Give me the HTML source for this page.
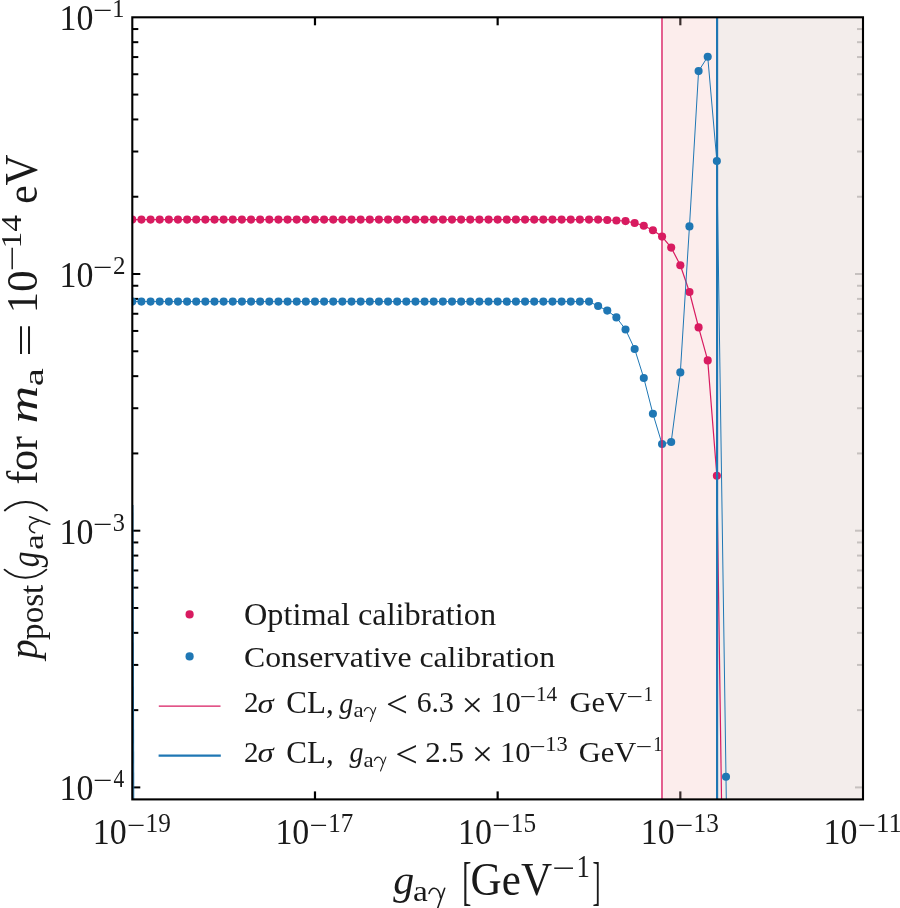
<!DOCTYPE html>
<html><head><meta charset="utf-8"><style>
html,body{margin:0;padding:0;background:#fff;}
body{width:900px;height:908px;overflow:hidden;}
svg{display:block;will-change:transform;}
text{font-family:"Liberation Serif", serif;fill:#1a1a1a;stroke:#fff;stroke-width:0px;vector-effect:non-scaling-stroke;}
</style></head><body>
<svg width="900" height="908" viewBox="0 0 900 908">
<defs><clipPath id="ax"><rect x="132.3" y="17.3" width="730.7" height="782.1"/></clipPath></defs>

<rect x="663.2" y="17.3" width="55.799999999999955" height="782.1" fill="#fcedec"/>
<rect x="719.0" y="17.3" width="144.0" height="782.1" fill="#f3edeb"/>
<line x1="132.3" y1="787.40" x2="140.3" y2="787.40" stroke="#000" stroke-width="2"/>
<line x1="863.0" y1="787.40" x2="855.0" y2="787.40" stroke="#c6c1bf" stroke-width="2"/>
<line x1="132.3" y1="710.13" x2="138.3" y2="710.13" stroke="#000" stroke-width="2"/>
<line x1="863.0" y1="710.13" x2="857.0" y2="710.13" stroke="#c6c1bf" stroke-width="2"/>
<line x1="132.3" y1="664.92" x2="138.3" y2="664.92" stroke="#000" stroke-width="2"/>
<line x1="863.0" y1="664.92" x2="857.0" y2="664.92" stroke="#c6c1bf" stroke-width="2"/>
<line x1="132.3" y1="632.85" x2="138.3" y2="632.85" stroke="#000" stroke-width="2"/>
<line x1="863.0" y1="632.85" x2="857.0" y2="632.85" stroke="#c6c1bf" stroke-width="2"/>
<line x1="132.3" y1="607.97" x2="138.3" y2="607.97" stroke="#000" stroke-width="2"/>
<line x1="863.0" y1="607.97" x2="857.0" y2="607.97" stroke="#c6c1bf" stroke-width="2"/>
<line x1="132.3" y1="587.65" x2="138.3" y2="587.65" stroke="#000" stroke-width="2"/>
<line x1="863.0" y1="587.65" x2="857.0" y2="587.65" stroke="#c6c1bf" stroke-width="2"/>
<line x1="132.3" y1="570.46" x2="138.3" y2="570.46" stroke="#000" stroke-width="2"/>
<line x1="863.0" y1="570.46" x2="857.0" y2="570.46" stroke="#c6c1bf" stroke-width="2"/>
<line x1="132.3" y1="555.58" x2="138.3" y2="555.58" stroke="#000" stroke-width="2"/>
<line x1="863.0" y1="555.58" x2="857.0" y2="555.58" stroke="#c6c1bf" stroke-width="2"/>
<line x1="132.3" y1="542.45" x2="138.3" y2="542.45" stroke="#000" stroke-width="2"/>
<line x1="863.0" y1="542.45" x2="857.0" y2="542.45" stroke="#c6c1bf" stroke-width="2"/>
<line x1="132.3" y1="530.70" x2="140.3" y2="530.70" stroke="#000" stroke-width="2"/>
<line x1="863.0" y1="530.70" x2="855.0" y2="530.70" stroke="#c6c1bf" stroke-width="2"/>
<line x1="132.3" y1="453.43" x2="138.3" y2="453.43" stroke="#000" stroke-width="2"/>
<line x1="863.0" y1="453.43" x2="857.0" y2="453.43" stroke="#c6c1bf" stroke-width="2"/>
<line x1="132.3" y1="408.22" x2="138.3" y2="408.22" stroke="#000" stroke-width="2"/>
<line x1="863.0" y1="408.22" x2="857.0" y2="408.22" stroke="#c6c1bf" stroke-width="2"/>
<line x1="132.3" y1="376.15" x2="138.3" y2="376.15" stroke="#000" stroke-width="2"/>
<line x1="863.0" y1="376.15" x2="857.0" y2="376.15" stroke="#c6c1bf" stroke-width="2"/>
<line x1="132.3" y1="351.27" x2="138.3" y2="351.27" stroke="#000" stroke-width="2"/>
<line x1="863.0" y1="351.27" x2="857.0" y2="351.27" stroke="#c6c1bf" stroke-width="2"/>
<line x1="132.3" y1="330.95" x2="138.3" y2="330.95" stroke="#000" stroke-width="2"/>
<line x1="863.0" y1="330.95" x2="857.0" y2="330.95" stroke="#c6c1bf" stroke-width="2"/>
<line x1="132.3" y1="313.76" x2="138.3" y2="313.76" stroke="#000" stroke-width="2"/>
<line x1="863.0" y1="313.76" x2="857.0" y2="313.76" stroke="#c6c1bf" stroke-width="2"/>
<line x1="132.3" y1="298.88" x2="138.3" y2="298.88" stroke="#000" stroke-width="2"/>
<line x1="863.0" y1="298.88" x2="857.0" y2="298.88" stroke="#c6c1bf" stroke-width="2"/>
<line x1="132.3" y1="285.75" x2="138.3" y2="285.75" stroke="#000" stroke-width="2"/>
<line x1="863.0" y1="285.75" x2="857.0" y2="285.75" stroke="#c6c1bf" stroke-width="2"/>
<line x1="132.3" y1="274.00" x2="140.3" y2="274.00" stroke="#000" stroke-width="2"/>
<line x1="863.0" y1="274.00" x2="855.0" y2="274.00" stroke="#c6c1bf" stroke-width="2"/>
<line x1="132.3" y1="196.73" x2="138.3" y2="196.73" stroke="#000" stroke-width="2"/>
<line x1="863.0" y1="196.73" x2="857.0" y2="196.73" stroke="#c6c1bf" stroke-width="2"/>
<line x1="132.3" y1="151.52" x2="138.3" y2="151.52" stroke="#000" stroke-width="2"/>
<line x1="863.0" y1="151.52" x2="857.0" y2="151.52" stroke="#c6c1bf" stroke-width="2"/>
<line x1="132.3" y1="119.45" x2="138.3" y2="119.45" stroke="#000" stroke-width="2"/>
<line x1="863.0" y1="119.45" x2="857.0" y2="119.45" stroke="#c6c1bf" stroke-width="2"/>
<line x1="132.3" y1="94.57" x2="138.3" y2="94.57" stroke="#000" stroke-width="2"/>
<line x1="863.0" y1="94.57" x2="857.0" y2="94.57" stroke="#c6c1bf" stroke-width="2"/>
<line x1="132.3" y1="74.25" x2="138.3" y2="74.25" stroke="#000" stroke-width="2"/>
<line x1="863.0" y1="74.25" x2="857.0" y2="74.25" stroke="#c6c1bf" stroke-width="2"/>
<line x1="132.3" y1="57.06" x2="138.3" y2="57.06" stroke="#000" stroke-width="2"/>
<line x1="863.0" y1="57.06" x2="857.0" y2="57.06" stroke="#c6c1bf" stroke-width="2"/>
<line x1="132.3" y1="42.18" x2="138.3" y2="42.18" stroke="#000" stroke-width="2"/>
<line x1="863.0" y1="42.18" x2="857.0" y2="42.18" stroke="#c6c1bf" stroke-width="2"/>
<line x1="132.3" y1="29.05" x2="138.3" y2="29.05" stroke="#000" stroke-width="2"/>
<line x1="863.0" y1="29.05" x2="857.0" y2="29.05" stroke="#c6c1bf" stroke-width="2"/>
<line x1="314.98" y1="799.4" x2="314.98" y2="791.4" stroke="#000" stroke-width="2.2"/>
<line x1="314.98" y1="17.3" x2="314.98" y2="25.3" stroke="#000" stroke-width="2.2"/>
<line x1="497.65" y1="799.4" x2="497.65" y2="791.4" stroke="#000" stroke-width="2.2"/>
<line x1="497.65" y1="17.3" x2="497.65" y2="25.3" stroke="#000" stroke-width="2.2"/>
<line x1="680.33" y1="799.4" x2="680.33" y2="791.4" stroke="#3a2e2e" stroke-width="2.2"/>
<line x1="680.33" y1="17.3" x2="680.33" y2="25.3" stroke="#3a2e2e" stroke-width="2.2"/>
<g clip-path="url(#ax)">
<polyline points="132.30,219.60 141.43,219.60 150.57,219.60 159.70,219.60 168.84,219.60 177.97,219.60 187.10,219.60 196.24,219.60 205.37,219.60 214.50,219.60 223.64,219.60 232.77,219.60 241.91,219.60 251.04,219.60 260.17,219.60 269.31,219.60 278.44,219.60 287.57,219.60 296.71,219.60 305.84,219.60 314.98,219.60 324.11,219.60 333.24,219.60 342.38,219.60 351.51,219.60 360.64,219.60 369.78,219.60 378.91,219.60 388.05,219.60 397.18,219.60 406.31,219.60 415.45,219.60 424.58,219.60 433.71,219.60 442.85,219.60 451.98,219.60 461.12,219.60 470.25,219.60 479.38,219.60 488.52,219.60 497.65,219.60 506.78,219.60 515.92,219.60 525.05,219.60 534.19,219.60 543.32,219.60 552.45,219.60 561.59,219.60 570.72,219.60 579.85,219.60 588.99,219.60 598.12,219.60 607.26,220.00 616.39,220.50 625.52,221.10 634.66,223.00 643.79,225.70 652.92,230.20 662.06,236.60 671.19,247.60 680.33,265.20 689.46,292.00 698.59,327.40 707.73,360.40 716.86,475.70 725.99,1110.00 735.13,1800.00" fill="none" stroke="#d81b60" stroke-width="1.2" stroke-linejoin="round"/>
<circle cx="132.30" cy="219.60" r="4.05" fill="#d81b60"/><circle cx="141.43" cy="219.60" r="4.05" fill="#d81b60"/><circle cx="150.57" cy="219.60" r="4.05" fill="#d81b60"/><circle cx="159.70" cy="219.60" r="4.05" fill="#d81b60"/><circle cx="168.84" cy="219.60" r="4.05" fill="#d81b60"/><circle cx="177.97" cy="219.60" r="4.05" fill="#d81b60"/><circle cx="187.10" cy="219.60" r="4.05" fill="#d81b60"/><circle cx="196.24" cy="219.60" r="4.05" fill="#d81b60"/><circle cx="205.37" cy="219.60" r="4.05" fill="#d81b60"/><circle cx="214.50" cy="219.60" r="4.05" fill="#d81b60"/><circle cx="223.64" cy="219.60" r="4.05" fill="#d81b60"/><circle cx="232.77" cy="219.60" r="4.05" fill="#d81b60"/><circle cx="241.91" cy="219.60" r="4.05" fill="#d81b60"/><circle cx="251.04" cy="219.60" r="4.05" fill="#d81b60"/><circle cx="260.17" cy="219.60" r="4.05" fill="#d81b60"/><circle cx="269.31" cy="219.60" r="4.05" fill="#d81b60"/><circle cx="278.44" cy="219.60" r="4.05" fill="#d81b60"/><circle cx="287.57" cy="219.60" r="4.05" fill="#d81b60"/><circle cx="296.71" cy="219.60" r="4.05" fill="#d81b60"/><circle cx="305.84" cy="219.60" r="4.05" fill="#d81b60"/><circle cx="314.98" cy="219.60" r="4.05" fill="#d81b60"/><circle cx="324.11" cy="219.60" r="4.05" fill="#d81b60"/><circle cx="333.24" cy="219.60" r="4.05" fill="#d81b60"/><circle cx="342.38" cy="219.60" r="4.05" fill="#d81b60"/><circle cx="351.51" cy="219.60" r="4.05" fill="#d81b60"/><circle cx="360.64" cy="219.60" r="4.05" fill="#d81b60"/><circle cx="369.78" cy="219.60" r="4.05" fill="#d81b60"/><circle cx="378.91" cy="219.60" r="4.05" fill="#d81b60"/><circle cx="388.05" cy="219.60" r="4.05" fill="#d81b60"/><circle cx="397.18" cy="219.60" r="4.05" fill="#d81b60"/><circle cx="406.31" cy="219.60" r="4.05" fill="#d81b60"/><circle cx="415.45" cy="219.60" r="4.05" fill="#d81b60"/><circle cx="424.58" cy="219.60" r="4.05" fill="#d81b60"/><circle cx="433.71" cy="219.60" r="4.05" fill="#d81b60"/><circle cx="442.85" cy="219.60" r="4.05" fill="#d81b60"/><circle cx="451.98" cy="219.60" r="4.05" fill="#d81b60"/><circle cx="461.12" cy="219.60" r="4.05" fill="#d81b60"/><circle cx="470.25" cy="219.60" r="4.05" fill="#d81b60"/><circle cx="479.38" cy="219.60" r="4.05" fill="#d81b60"/><circle cx="488.52" cy="219.60" r="4.05" fill="#d81b60"/><circle cx="497.65" cy="219.60" r="4.05" fill="#d81b60"/><circle cx="506.78" cy="219.60" r="4.05" fill="#d81b60"/><circle cx="515.92" cy="219.60" r="4.05" fill="#d81b60"/><circle cx="525.05" cy="219.60" r="4.05" fill="#d81b60"/><circle cx="534.19" cy="219.60" r="4.05" fill="#d81b60"/><circle cx="543.32" cy="219.60" r="4.05" fill="#d81b60"/><circle cx="552.45" cy="219.60" r="4.05" fill="#d81b60"/><circle cx="561.59" cy="219.60" r="4.05" fill="#d81b60"/><circle cx="570.72" cy="219.60" r="4.05" fill="#d81b60"/><circle cx="579.85" cy="219.60" r="4.05" fill="#d81b60"/><circle cx="588.99" cy="219.60" r="4.05" fill="#d81b60"/><circle cx="598.12" cy="219.60" r="4.05" fill="#d81b60"/><circle cx="607.26" cy="220.00" r="4.05" fill="#d81b60"/><circle cx="616.39" cy="220.50" r="4.05" fill="#d81b60"/><circle cx="625.52" cy="221.10" r="4.05" fill="#d81b60"/><circle cx="634.66" cy="223.00" r="4.05" fill="#d81b60"/><circle cx="643.79" cy="225.70" r="4.05" fill="#d81b60"/><circle cx="652.92" cy="230.20" r="4.05" fill="#d81b60"/><circle cx="662.06" cy="236.60" r="4.05" fill="#d81b60"/><circle cx="671.19" cy="247.60" r="4.05" fill="#d81b60"/><circle cx="680.33" cy="265.20" r="4.05" fill="#d81b60"/><circle cx="689.46" cy="292.00" r="4.05" fill="#d81b60"/><circle cx="698.59" cy="327.40" r="4.05" fill="#d81b60"/><circle cx="707.73" cy="360.40" r="4.05" fill="#d81b60"/><circle cx="716.86" cy="475.70" r="4.05" fill="#d81b60"/>
<polyline points="132.30,301.60 141.43,301.60 150.57,301.60 159.70,301.60 168.84,301.60 177.97,301.60 187.10,301.60 196.24,301.60 205.37,301.60 214.50,301.60 223.64,301.60 232.77,301.60 241.91,301.60 251.04,301.60 260.17,301.60 269.31,301.60 278.44,301.60 287.57,301.60 296.71,301.60 305.84,301.60 314.98,301.60 324.11,301.60 333.24,301.60 342.38,301.60 351.51,301.60 360.64,301.60 369.78,301.60 378.91,301.60 388.05,301.60 397.18,301.60 406.31,301.60 415.45,301.60 424.58,301.60 433.71,301.60 442.85,301.60 451.98,301.60 461.12,301.60 470.25,301.60 479.38,301.60 488.52,301.60 497.65,301.60 506.78,301.60 515.92,301.60 525.05,301.60 534.19,301.60 543.32,301.60 552.45,301.60 561.59,301.60 570.72,301.60 579.85,301.60 588.99,301.60 598.12,306.00 607.26,310.60 616.39,317.40 625.52,329.50 634.66,349.00 643.79,378.00 652.92,413.70 662.06,444.00 671.19,442.00 680.33,372.40 689.46,226.40 698.59,71.10 707.73,56.70 716.86,161.00 725.99,776.80 735.13,1482.00" fill="none" stroke="#1f77b4" stroke-width="1.0" stroke-linejoin="round"/>
<circle cx="132.30" cy="301.60" r="4.05" fill="#1f77b4"/><circle cx="141.43" cy="301.60" r="4.05" fill="#1f77b4"/><circle cx="150.57" cy="301.60" r="4.05" fill="#1f77b4"/><circle cx="159.70" cy="301.60" r="4.05" fill="#1f77b4"/><circle cx="168.84" cy="301.60" r="4.05" fill="#1f77b4"/><circle cx="177.97" cy="301.60" r="4.05" fill="#1f77b4"/><circle cx="187.10" cy="301.60" r="4.05" fill="#1f77b4"/><circle cx="196.24" cy="301.60" r="4.05" fill="#1f77b4"/><circle cx="205.37" cy="301.60" r="4.05" fill="#1f77b4"/><circle cx="214.50" cy="301.60" r="4.05" fill="#1f77b4"/><circle cx="223.64" cy="301.60" r="4.05" fill="#1f77b4"/><circle cx="232.77" cy="301.60" r="4.05" fill="#1f77b4"/><circle cx="241.91" cy="301.60" r="4.05" fill="#1f77b4"/><circle cx="251.04" cy="301.60" r="4.05" fill="#1f77b4"/><circle cx="260.17" cy="301.60" r="4.05" fill="#1f77b4"/><circle cx="269.31" cy="301.60" r="4.05" fill="#1f77b4"/><circle cx="278.44" cy="301.60" r="4.05" fill="#1f77b4"/><circle cx="287.57" cy="301.60" r="4.05" fill="#1f77b4"/><circle cx="296.71" cy="301.60" r="4.05" fill="#1f77b4"/><circle cx="305.84" cy="301.60" r="4.05" fill="#1f77b4"/><circle cx="314.98" cy="301.60" r="4.05" fill="#1f77b4"/><circle cx="324.11" cy="301.60" r="4.05" fill="#1f77b4"/><circle cx="333.24" cy="301.60" r="4.05" fill="#1f77b4"/><circle cx="342.38" cy="301.60" r="4.05" fill="#1f77b4"/><circle cx="351.51" cy="301.60" r="4.05" fill="#1f77b4"/><circle cx="360.64" cy="301.60" r="4.05" fill="#1f77b4"/><circle cx="369.78" cy="301.60" r="4.05" fill="#1f77b4"/><circle cx="378.91" cy="301.60" r="4.05" fill="#1f77b4"/><circle cx="388.05" cy="301.60" r="4.05" fill="#1f77b4"/><circle cx="397.18" cy="301.60" r="4.05" fill="#1f77b4"/><circle cx="406.31" cy="301.60" r="4.05" fill="#1f77b4"/><circle cx="415.45" cy="301.60" r="4.05" fill="#1f77b4"/><circle cx="424.58" cy="301.60" r="4.05" fill="#1f77b4"/><circle cx="433.71" cy="301.60" r="4.05" fill="#1f77b4"/><circle cx="442.85" cy="301.60" r="4.05" fill="#1f77b4"/><circle cx="451.98" cy="301.60" r="4.05" fill="#1f77b4"/><circle cx="461.12" cy="301.60" r="4.05" fill="#1f77b4"/><circle cx="470.25" cy="301.60" r="4.05" fill="#1f77b4"/><circle cx="479.38" cy="301.60" r="4.05" fill="#1f77b4"/><circle cx="488.52" cy="301.60" r="4.05" fill="#1f77b4"/><circle cx="497.65" cy="301.60" r="4.05" fill="#1f77b4"/><circle cx="506.78" cy="301.60" r="4.05" fill="#1f77b4"/><circle cx="515.92" cy="301.60" r="4.05" fill="#1f77b4"/><circle cx="525.05" cy="301.60" r="4.05" fill="#1f77b4"/><circle cx="534.19" cy="301.60" r="4.05" fill="#1f77b4"/><circle cx="543.32" cy="301.60" r="4.05" fill="#1f77b4"/><circle cx="552.45" cy="301.60" r="4.05" fill="#1f77b4"/><circle cx="561.59" cy="301.60" r="4.05" fill="#1f77b4"/><circle cx="570.72" cy="301.60" r="4.05" fill="#1f77b4"/><circle cx="579.85" cy="301.60" r="4.05" fill="#1f77b4"/><circle cx="588.99" cy="301.60" r="4.05" fill="#1f77b4"/><circle cx="598.12" cy="306.00" r="4.05" fill="#1f77b4"/><circle cx="607.26" cy="310.60" r="4.05" fill="#1f77b4"/><circle cx="616.39" cy="317.40" r="4.05" fill="#1f77b4"/><circle cx="625.52" cy="329.50" r="4.05" fill="#1f77b4"/><circle cx="634.66" cy="349.00" r="4.05" fill="#1f77b4"/><circle cx="643.79" cy="378.00" r="4.05" fill="#1f77b4"/><circle cx="652.92" cy="413.70" r="4.05" fill="#1f77b4"/><circle cx="662.06" cy="444.00" r="4.05" fill="#1f77b4"/><circle cx="671.19" cy="442.00" r="4.05" fill="#1f77b4"/><circle cx="680.33" cy="372.40" r="4.05" fill="#1f77b4"/><circle cx="689.46" cy="226.40" r="4.05" fill="#1f77b4"/><circle cx="698.59" cy="71.10" r="4.05" fill="#1f77b4"/><circle cx="707.73" cy="56.70" r="4.05" fill="#1f77b4"/><circle cx="716.86" cy="161.00" r="4.05" fill="#1f77b4"/><circle cx="725.99" cy="776.80" r="4.05" fill="#1f77b4"/>
<line x1="662.0" y1="17.3" x2="662.0" y2="799.4" stroke="#d81b60" stroke-opacity="0.88" stroke-width="1.6"/>
<line x1="132.9" y1="505" x2="133.75" y2="799.4" stroke="#1f77b4" stroke-width="1.1"/>
<line x1="717.1" y1="17.3" x2="717.1" y2="799.4" stroke="#1f77b4" stroke-width="2.2"/>
</g>
<rect x="132.3" y="17.3" width="730.7" height="782.1" fill="none" stroke="#000" stroke-width="2.1"/>
<text transform="translate(59.45,30.10) scale(0.9318,1)" font-size="36.39" stroke-width="0.26">10</text>
<text transform="translate(93.28,19.10) scale(1.3234,1)" font-size="26.00">−</text>
<text transform="translate(112.31,17.30) scale(0.9319,1)" font-size="26.06">1</text>
<text transform="translate(59.45,286.80) scale(0.9318,1)" font-size="36.39" stroke-width="0.26">10</text>
<text transform="translate(93.28,275.80) scale(1.3234,1)" font-size="26.00">−</text>
<text transform="translate(112.88,274.00) scale(0.9593,1)" font-size="26.06">2</text>
<text transform="translate(59.45,543.50) scale(0.9318,1)" font-size="36.39" stroke-width="0.26">10</text>
<text transform="translate(93.28,532.50) scale(1.3234,1)" font-size="26.00">−</text>
<text transform="translate(112.78,530.70) scale(0.9359,1)" font-size="26.06">3</text>
<text transform="translate(59.45,800.20) scale(0.9318,1)" font-size="36.39" stroke-width="0.26">10</text>
<text transform="translate(93.28,789.20) scale(1.3234,1)" font-size="26.00">−</text>
<text transform="translate(113.57,787.40) scale(0.8252,1)" font-size="26.06">4</text>
<text transform="translate(92.75,844.00) scale(0.9395,1)" font-size="36.09" stroke-width="0.24">10</text>
<text transform="translate(127.19,833.60) scale(1.2407,1)" font-size="26.00">−</text>
<text transform="translate(145.52,831.50) scale(0.9537,1)" font-size="26.52">19</text>
<text transform="translate(275.42,844.00) scale(0.9395,1)" font-size="36.09" stroke-width="0.24">10</text>
<text transform="translate(309.86,833.60) scale(1.2407,1)" font-size="26.00">−</text>
<text transform="translate(328.23,831.50) scale(0.9429,1)" font-size="26.52">17</text>
<text transform="translate(458.10,844.00) scale(0.9395,1)" font-size="36.09" stroke-width="0.24">10</text>
<text transform="translate(492.54,833.60) scale(1.2407,1)" font-size="26.00">−</text>
<text transform="translate(510.87,831.50) scale(0.9537,1)" font-size="26.52">15</text>
<text transform="translate(640.77,844.00) scale(0.9395,1)" font-size="36.09" stroke-width="0.24">10</text>
<text transform="translate(675.21,833.60) scale(1.2407,1)" font-size="26.00">−</text>
<text transform="translate(693.55,831.50) scale(0.9537,1)" font-size="26.52">13</text>
<text transform="translate(823.45,844.00) scale(0.9395,1)" font-size="36.09" stroke-width="0.24">10</text>
<text transform="translate(857.89,833.60) scale(1.2407,1)" font-size="26.00">−</text>
<text transform="translate(876.07,831.50) scale(1.0181,1)" font-size="26.52">11</text>
<text transform="translate(393.30,894.21) scale(1.0254,1)" font-size="40.88" font-style="italic" stroke-width="0.44">g</text>
<text transform="translate(413.03,901.30) scale(1.1061,1)" font-size="30.21" stroke-width="0.01">a</text>
<path d="M429.10,893.40 C430.35,889.24 432.22,888.20 434.25,888.20 C437.68,888.20 439.71,892.36 440.64,897.56" fill="none" stroke="#1a1a1a" stroke-width="1.62" stroke-linecap="round"/><path d="M444.70,888.20 L437.37,909.00" fill="none" stroke="#1a1a1a" stroke-width="1.54" stroke-linecap="round"/>
<text transform="translate(462.25,898.54) scale(0.5145,1)" font-size="53.01" stroke-width="0.60">[</text>
<text transform="translate(470.57,894.80) scale(0.9160,1)" font-size="47.12" stroke-width="0.60">GeV</text>
<text transform="translate(552.38,877.90) scale(1.3477,1)" font-size="30.00">−</text>
<text transform="translate(576.58,876.70) scale(0.8775,1)" font-size="30.61" stroke-width="0.02">1</text>
<text transform="translate(592.56,898.56) scale(0.4600,1)" font-size="52.17" stroke-width="0.60">]</text>
<g transform="rotate(-90)"><text transform="translate(-659.03,36.64) scale(0.9251,1)" font-size="42.63" font-style="italic" stroke-width="0.51">p</text><text transform="translate(-639.90,42.50) scale(1.0118,1)" font-size="32.74" stroke-width="0.11">post</text><path d="M-569.65,4.55 C-580.45,16.71 -580.45,34.19 -569.65,46.35" fill="none" stroke="#1a1a1a" stroke-width="1.9" stroke-linecap="round"/><text transform="translate(-567.20,38.73) scale(0.7848,1)" font-size="39.85" font-style="italic" stroke-width="0.39">g</text><text transform="translate(-549.73,42.50) scale(1.2530,1)" font-size="28.09">a</text><path d="M-532.70,34.58 C-531.43,30.52 -529.52,29.50 -527.45,29.50 C-523.96,29.50 -521.89,33.56 -520.93,38.63" fill="none" stroke="#1a1a1a" stroke-width="1.58" stroke-linecap="round"/><path d="M-516.80,29.50 L-524.27,49.80" fill="none" stroke="#1a1a1a" stroke-width="1.50" stroke-linecap="round"/><path d="M-510.45,4.85 C-499.12,17.10 -499.12,34.70 -510.45,46.95" fill="none" stroke="#1a1a1a" stroke-width="1.9" stroke-linecap="round"/><text transform="translate(-484.54,37.40) scale(0.9329,1)" font-size="44.40" stroke-width="0.58">for</text><text transform="translate(-423.42,37.40) scale(1.3023,1)" font-size="40.00" font-style="italic" stroke-width="0.40">m</text><text transform="translate(-386.23,42.50) scale(1.4513,1)" font-size="28.09">a</text><text transform="translate(-356.98,39.00) scale(1.4892,1)" font-size="40.00" stroke-width="0.40">=</text><text transform="translate(-313.13,37.40) scale(0.9427,1)" font-size="45.11" stroke-width="0.60">10</text><text transform="translate(-271.31,22.30) scale(1.5412,1)" font-size="30.00">−</text><text transform="translate(-248.54,20.70) scale(1.1305,1)" font-size="29.85">14</text><text transform="translate(-203.65,37.40) scale(0.9299,1)" font-size="44.47" stroke-width="0.58">e</text><text transform="translate(-185.43,37.40) scale(0.9114,1)" font-size="47.02" stroke-width="0.60">V</text></g>
<circle cx="189.6" cy="614.4" r="4.1" fill="#d81b60"/>
<circle cx="189.6" cy="656.4" r="4.1" fill="#1f77b4"/>
<line x1="158.8" y1="706.1" x2="220.5" y2="706.1" stroke="#d81b60" stroke-width="1.4"/>
<line x1="158.6" y1="755.6" x2="220.8" y2="755.6" stroke="#1f77b4" stroke-width="2.1"/>
<text transform="translate(244.01,625.30) scale(1.0444,1)" font-size="30.94" stroke-width="0.04">Optimal calibration</text>
<text transform="translate(244.03,667.30) scale(1.0458,1)" font-size="30.36" stroke-width="0.01">Conservative calibration</text>
<text transform="translate(244.00,712.40) scale(0.9815,1)" font-size="29.55">2</text>
<text transform="translate(257.52,712.70) scale(1.2393,1)" font-size="26.41" font-style="italic">σ</text>
<text transform="translate(286.36,713.13) scale(0.9970,1)" font-size="31.11" stroke-width="0.04">CL,</text>
<text transform="translate(339.30,712.58) scale(0.9866,1)" font-size="28.47" font-style="italic">g</text>
<text transform="translate(353.50,717.00) scale(1.0709,1)" font-size="21.28">a</text>
<path d="M364.30,710.98 C365.22,708.20 366.60,707.50 368.10,707.50 C370.62,707.50 372.12,710.28 372.81,713.75" fill="none" stroke="#1a1a1a" stroke-width="1.08" stroke-linecap="round"/><path d="M375.80,707.50 L370.40,721.40" fill="none" stroke="#1a1a1a" stroke-width="1.03" stroke-linecap="round"/>
<text transform="translate(385.95,717.24) scale(1.0488,1)" font-size="37.11" stroke-width="0.28">&lt;</text>
<text transform="translate(416.66,712.40) scale(1.0081,1)" font-size="29.55">6.3</text>
<text transform="translate(461.44,716.69) scale(1.0616,1)" font-size="36.05" stroke-width="0.24">×</text>
<text transform="translate(490.59,712.40) scale(1.0270,1)" font-size="29.32">10</text>
<text transform="translate(519.85,704.00) scale(1.3196,1)" font-size="22.00">−</text>
<text transform="translate(535.89,701.40) scale(0.9867,1)" font-size="21.52">14</text>
<text transform="translate(569.48,712.40) scale(1.0071,1)" font-size="30.30" stroke-width="0.01">GeV</text>
<text transform="translate(626.55,704.00) scale(1.3196,1)" font-size="22.00">−</text>
<text transform="translate(643.83,701.40) scale(0.8632,1)" font-size="21.52">1</text>
<text transform="translate(244.00,762.00) scale(0.9815,1)" font-size="29.55">2</text>
<text transform="translate(257.52,762.30) scale(1.2393,1)" font-size="26.41" font-style="italic">σ</text>
<text transform="translate(286.36,762.73) scale(0.9970,1)" font-size="31.11" stroke-width="0.04">CL,</text>
<text transform="translate(349.40,762.18) scale(0.9866,1)" font-size="28.47" font-style="italic">g</text>
<text transform="translate(363.60,766.60) scale(1.0709,1)" font-size="21.28">a</text>
<path d="M374.40,760.58 C375.32,757.80 376.70,757.10 378.20,757.10 C380.73,757.10 382.22,759.88 382.91,763.36" fill="none" stroke="#1a1a1a" stroke-width="1.08" stroke-linecap="round"/><path d="M385.90,757.10 L380.50,771.00" fill="none" stroke="#1a1a1a" stroke-width="1.03" stroke-linecap="round"/>
<text transform="translate(395.29,766.84) scale(1.0836,1)" font-size="37.11" stroke-width="0.28">&lt;</text>
<text transform="translate(425.31,762.00) scale(1.0459,1)" font-size="29.55">2.5</text>
<text transform="translate(471.68,766.29) scale(1.0479,1)" font-size="36.05" stroke-width="0.24">×</text>
<text transform="translate(499.95,762.00) scale(1.0427,1)" font-size="29.32">10</text>
<text transform="translate(529.25,753.60) scale(1.3196,1)" font-size="22.00">−</text>
<text transform="translate(545.18,751.00) scale(1.0418,1)" font-size="21.52">13</text>
<text transform="translate(578.78,762.00) scale(1.0071,1)" font-size="30.30" stroke-width="0.01">GeV</text>
<text transform="translate(635.85,753.60) scale(1.3196,1)" font-size="22.00">−</text>
<text transform="translate(653.13,751.00) scale(0.8632,1)" font-size="21.52">1</text>
</svg></body></html>
